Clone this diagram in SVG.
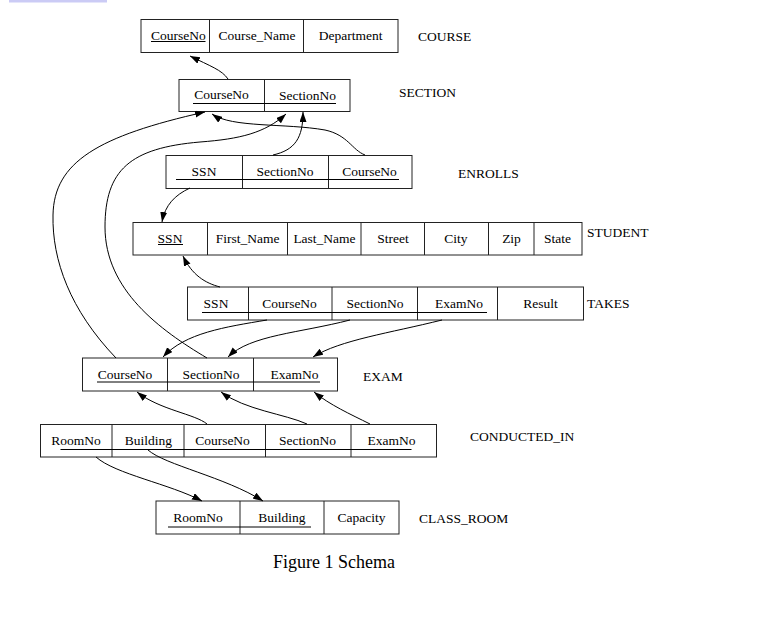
<svg xmlns="http://www.w3.org/2000/svg" width="764" height="626" viewBox="0 0 764 626">
<defs>
<style>
.box{fill:#fff;stroke:#222;stroke-width:1}
.div{stroke:#222;stroke-width:1}
.ul{stroke:#000;stroke-width:1}
text{font-family:"Liberation Serif","Times New Roman",serif;font-size:13.5px;fill:#000}
.c{text-anchor:middle}
.cap{font-size:18px}
.conn path{fill:none;stroke:#000;stroke-width:1;marker-end:url(#ah)}
</style>
<marker id="ah" markerUnits="userSpaceOnUse" markerWidth="11" markerHeight="8" refX="10" refY="3.5" orient="auto">
<path d="M0,0 L10,3.5 L0,7 z" fill="#000"/>
</marker>
</defs>
<rect width="764" height="626" fill="#fff"/>
<rect x="9" y="0" width="98" height="2.5" fill="#cbcbf5"/>

<g id="COURSE">
<rect class="box" x="141" y="19.5" width="257" height="33"/>
<line class="div" x1="209.5" y1="19.5" x2="209.5" y2="52.5"/>
<line class="div" x1="303.5" y1="19.5" x2="303.5" y2="52.5"/>
<text class="c" x="178.3" y="39.5">CourseNo</text>
<line class="ul" x1="151" y1="41.5" x2="205.5" y2="41.5"/>
<text class="c" x="257" y="39.5">Course_Name</text>
<text class="c" x="350.7" y="39.5">Department</text>
<text x="418" y="40.5">COURSE</text>
</g>

<g id="SECTION">
<rect class="box" x="179" y="79.5" width="171" height="32"/>
<line class="div" x1="264.5" y1="79.5" x2="264.5" y2="111.5"/>
<text class="c" x="221.5" y="99">CourseNo</text>
<text class="c" x="307.5" y="100">SectionNo</text>
<line class="ul" x1="193" y1="103.5" x2="336" y2="103.5"/>
<text x="399" y="97">SECTION</text>
</g>

<g id="ENROLLS">
<rect class="box" x="166" y="155.5" width="246" height="33"/>
<line class="div" x1="242.5" y1="155.5" x2="242.5" y2="188.5"/>
<line class="div" x1="328.5" y1="155.5" x2="328.5" y2="188.5"/>
<text class="c" x="204" y="176">SSN</text>
<text class="c" x="285" y="176">SectionNo</text>
<text class="c" x="369.5" y="176">CourseNo</text>
<line class="ul" x1="176" y1="179.5" x2="399" y2="179.5"/>
<text x="458" y="178">ENROLLS</text>
</g>

<g id="STUDENT">
<rect class="box" x="133" y="222.5" width="449" height="32.5"/>
<line class="div" x1="207.5" y1="222.5" x2="207.5" y2="255"/>
<line class="div" x1="287.5" y1="222.5" x2="287.5" y2="255"/>
<line class="div" x1="361" y1="222.5" x2="361" y2="255"/>
<line class="div" x1="424.5" y1="222.5" x2="424.5" y2="255"/>
<line class="div" x1="488.5" y1="222.5" x2="488.5" y2="255"/>
<line class="div" x1="534" y1="222.5" x2="534" y2="255"/>
<text class="c" x="170" y="243">SSN</text>
<line class="ul" x1="158" y1="244.5" x2="183" y2="244.5"/>
<text class="c" x="247.5" y="243">First_Name</text>
<text class="c" x="324.5" y="243">Last_Name</text>
<text class="c" x="393" y="243">Street</text>
<text class="c" x="456" y="243">City</text>
<text class="c" x="511.5" y="243">Zip</text>
<text class="c" x="557.5" y="243">State</text>
<text x="587" y="237">STUDENT</text>
</g>

<g id="TAKES">
<rect class="box" x="187.5" y="287" width="396" height="33"/>
<line class="div" x1="248.5" y1="287" x2="248.5" y2="320"/>
<line class="div" x1="332" y1="287" x2="332" y2="320"/>
<line class="div" x1="417.5" y1="287" x2="417.5" y2="320"/>
<line class="div" x1="497.5" y1="287" x2="497.5" y2="320"/>
<text class="c" x="216" y="307.5">SSN</text>
<text class="c" x="289.5" y="307.5">CourseNo</text>
<text class="c" x="375" y="307.5">SectionNo</text>
<text class="c" x="459" y="307.5">ExamNo</text>
<text class="c" x="540.5" y="307.5">Result</text>
<line class="ul" x1="202" y1="312.5" x2="487" y2="312.5"/>
<text x="587" y="307.5">TAKES</text>
</g>

<g id="EXAM">
<rect class="box" x="82.5" y="358" width="255" height="33"/>
<line class="div" x1="167.5" y1="358" x2="167.5" y2="391"/>
<line class="div" x1="253.5" y1="358" x2="253.5" y2="391"/>
<text class="c" x="125" y="378.5">CourseNo</text>
<text class="c" x="211" y="378.5">SectionNo</text>
<text class="c" x="294.5" y="378.5">ExamNo</text>
<line class="ul" x1="97" y1="382" x2="320" y2="382"/>
<text x="363" y="380.5">EXAM</text>
</g>

<g id="CONDUCTED_IN">
<rect class="box" x="40.5" y="424.5" width="396" height="32.5"/>
<line class="div" x1="112" y1="424.5" x2="112" y2="457"/>
<line class="div" x1="184" y1="424.5" x2="184" y2="457"/>
<line class="div" x1="265.5" y1="424.5" x2="265.5" y2="457"/>
<line class="div" x1="351" y1="424.5" x2="351" y2="457"/>
<text class="c" x="76" y="444.5">RoomNo</text>
<text class="c" x="148.5" y="444.5">Building</text>
<text class="c" x="222.5" y="444.5">CourseNo</text>
<text class="c" x="307.5" y="444.5">SectionNo</text>
<text class="c" x="391.5" y="444.5">ExamNo</text>
<line class="ul" x1="60.5" y1="449.5" x2="411.5" y2="449.5"/>
<text x="470" y="440.5">CONDUCTED_IN</text>
</g>

<g id="CLASS_ROOM">
<rect class="box" x="156" y="501" width="243" height="33"/>
<line class="div" x1="240" y1="501" x2="240" y2="534"/>
<line class="div" x1="324" y1="501" x2="324" y2="534"/>
<text class="c" x="198" y="522">RoomNo</text>
<text class="c" x="282" y="522">Building</text>
<text class="c" x="361.5" y="522">Capacity</text>
<line class="ul" x1="168" y1="527" x2="311" y2="527"/>
<text x="419" y="523">CLASS_ROOM</text>
</g>

<g id="connectors" class="conn">
<path d="M228,79 C222,70 210,66 190,56"/>
<path d="M273,155 C295,150 303,138 303,112"/>
<path d="M365,155 C352,150 348,135 325,130 C285,123 232,128 212,114"/>
<path d="M116,358 C70,310 52,260 53,215 C54,162 98,136 205,112"/>
<path d="M207,358 C160,330 105,290 105,227 C105,170 130,148 200,142 C240,139 265,133 286,114"/>
<path d="M190,188 C175,195 165,205 162,222"/>
<path d="M220,287 C205,283 192,275 183,256"/>
<path d="M267,320 C225,327 185,333 163,357"/>
<path d="M350,320 C300,333 250,335 228,357"/>
<path d="M442,320 C390,333 340,340 313,357"/>
<path d="M207,424 C195,414 160,410 137,392"/>
<path d="M307,424 C285,414 245,410 221,392"/>
<path d="M370,424 C350,414 330,405 314,392"/>
<path d="M96,457 C115,474 170,484 202,501"/>
<path d="M148,450 C165,465 225,477 263,501"/>
</g>

<text class="cap" x="273" y="568">Figure 1 Schema</text>
</svg>
